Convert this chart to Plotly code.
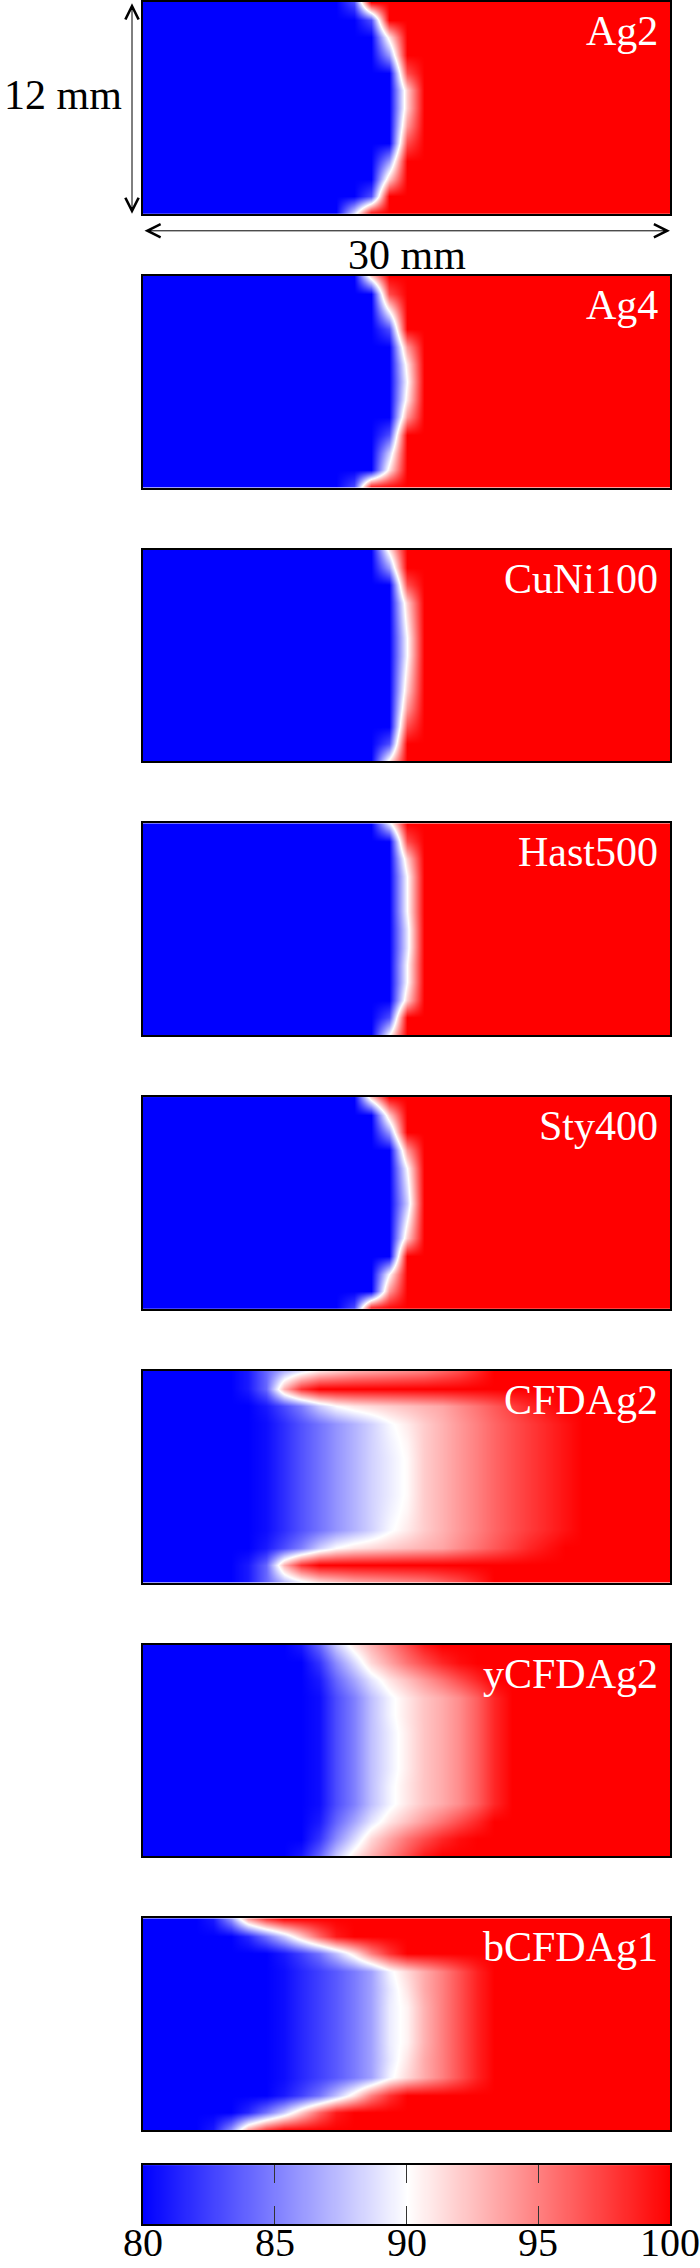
import plotly.graph_objects as go

# grid of the field maps, mm (y measured from the top edge)
x_mm = [0, 1, 2, 3, 4, 5, 6, 7, 8, 9, 10, 11, 12, 13, 14, 15, 16, 17, 18, 19, 20,
        21, 22, 23, 24, 25, 26, 27, 28, 29, 30]
y_mm = [0, 1, 2, 3, 4, 5, 6, 7, 8, 9, 10, 11, 12]

names = ["Ag2", "Ag4", "CuNi100", "Hast500", "Sty400", "CFDAg2", "yCFDAg2", "bCFDAg1"]

# sharp fronts (rows top -> bottom, 31 columns each)
ag2 = [
    [80]*12 + [83] + [100]*18,
    [80]*13 + [83] + [100]*17,
    [80]*14 + [91] + [100]*16,
    [80]*14 + [86] + [100]*16,
    [80]*15 + [97] + [100]*15,
    [80]*15 + [92] + [100]*15,
    [80]*15 + [92] + [100]*15,
    [80]*15 + [94] + [100]*15,
    [80]*15 + [97] + [100]*15,
    [80]*14 + [86] + [100]*16,
    [80]*14 + [92] + [100]*16,
    [80]*13 + [83] + [100]*17,
    [80]*12 + [89] + [100]*18,
]

ag4 = [
    [80]*13 + [92] + [100]*17,
    [80]*14 + [97] + [100]*16,
    [80]*14 + [90] + [100]*16,
    [80]*14 + [83] + [100]*16,
    [80]*15 + [94] + [100]*15,
    [80]*15 + [91] + [100]*15,
    [80]*15 + [90] + [100]*15,
    [80]*15 + [91] + [100]*15,
    [80]*15 + [94] + [100]*15,
    [80]*14 + [83] + [100]*16,
    [80]*14 + [88] + [100]*16,
    [80]*14 + [91] + [100]*16,
    [80]*12 + [83] + [100]*18,
]

cuni100 = [
    [80]*14 + [91] + [100]*16,
    [80]*14 + [86] + [100]*16,
    [80]*15 + [97] + [100]*15,
    [80]*15 + [92] + [100]*15,
    [80]*15 + [91] + [100]*15,
    [80]*15 + [90] + [100]*15,
    [80]*15 + [90] + [100]*15,
    [80]*15 + [91] + [100]*15,
    [80]*15 + [92] + [100]*15,
    [80]*15 + [94] + [100]*15,
    [80]*15 + [97] + [100]*15,
    [80]*14 + [83] + [100]*16,
    [80]*14 + [91] + [100]*16,
]

hast500 = [
    [80]*14 + [89] + [100]*16,
    [80]*15 + [97] + [100]*15,
    [80]*15 + [92] + [100]*15,
    [80]*15 + [90] + [100]*15,
    [80]*15 + [90] + [100]*15,
    [80]*15 + [90] + [100]*15,
    [80]*15 + [89] + [100]*15,
    [80]*15 + [89] + [100]*15,
    [80]*15 + [90] + [100]*15,
    [80]*15 + [90] + [100]*15,
    [80]*15 + [92] + [100]*15,
    [80]*14 + [83] + [100]*16,
    [80]*14 + [90] + [100]*16,
]

sty400 = [
    [80]*13 + [92] + [100]*17,
    [80]*14 + [92] + [100]*16,
    [80]*14 + [86] + [100]*16,
    [80]*15 + [94] + [100]*15,
    [80]*15 + [90] + [100]*15,
    [80]*15 + [89] + [100]*15,
    [80]*15 + [88] + [100]*15,
    [80]*15 + [90] + [100]*15,
    [80]*15 + [92] + [100]*15,
    [80]*15 + [100] + [100]*15,
    [80]*14 + [90] + [100]*16,
    [80]*14 + [94] + [100]*16,
    [80]*12 + [83] + [100]*18,
]

# CFDAg2 rows
cfd_edge = [80]*6 + [81, 84, 87, 89, 91, 92, 93, 93.5, 94, 94.5, 95, 96, 97, 98.5] + [100]*11
cfd_tip = [80]*6 + [81, 84, 93, 98] + [100]*21
cfd_side = [80]*7 + [81, 83, 85, 88, 90, 91, 91.5, 92, 92.5, 93, 93.5, 94.5, 95.5, 96.5, 97.5, 98.5, 99.3] + [100]*7
cfd_mid_a = [80]*7 + [80.5, 81.8, 83.2, 84.5, 85.8, 87, 88.2, 89.7, 90.8, 92, 93, 94, 95, 96, 96.9, 97.7, 98.5, 99.3] + [100]*6
cfd_mid_b = [80]*7 + [80.5, 81.8, 83.2, 84.5, 85.8, 87, 88.2, 89.4, 90.4, 92, 93, 94, 95, 96, 96.9, 97.7, 98.5, 99.3] + [100]*6
cfd_mid_c = [80]*7 + [80.5, 81.8, 83.2, 84.5, 85.8, 87, 88.2, 89.2, 90.2, 92, 93, 94, 95, 96, 96.9, 97.7, 98.5, 99.3] + [100]*6
cfdag2 = [cfd_edge, cfd_tip, cfd_side, cfd_mid_a, cfd_mid_b, cfd_mid_c, cfd_mid_c,
          cfd_mid_c, cfd_mid_b, cfd_mid_a, cfd_side, cfd_tip, cfd_edge]

# yCFDAg2 rows
y_edge = [80]*9 + [81, 84, 88, 91, 93, 95, 97, 99] + [100]*14
y_near = [80]*10 + [82, 85.5, 88.5, 91.5, 93.5, 95.5, 97, 98.5, 99.5] + [100]*12
y_side = [80]*10 + [81, 84, 86.5, 89, 91, 92.5, 94, 95.5, 97, 98.5] + [100]*11
y_mid_a = [80]*10 + [80.5, 83, 85, 87.5, 89.5, 91, 92.3, 93.3, 94.5, 96.3, 98.5] + [100]*10
y_mid_b = [80]*10 + [80.5, 83, 85, 87.5, 89.2, 90.8, 92.3, 93.3, 94.5, 96.3, 98.5] + [100]*10
ycfdag2 = [y_edge, y_near, y_side, y_mid_a, y_mid_a, y_mid_b, y_mid_b,
           y_mid_b, y_mid_a, y_mid_a, y_side, y_near, y_edge]

# bCFDAg1 rows
b_edge = [80]*4 + [81, 86, 94, 98] + [100]*23
b_near = [80]*6 + [81.5, 84.5, 88, 92, 96, 99] + [100]*19
b_side = [80]*8 + [81, 82.5, 84.5, 87.5, 91, 95, 98] + [100]*16
b_mid_a = [80]*8 + [80.5, 81.5, 82.5, 83.5, 84.8, 86.3, 89.5, 91.5, 93.3, 95, 96.8, 98.7] + [100]*11
b_mid_b = [80]*8 + [80.5, 81.5, 82.5, 83.5, 84.8, 86.3, 89, 91, 93.3, 95, 96.8, 98.7] + [100]*11
b_mid_c = [80]*8 + [80.5, 81.5, 82.5, 83.5, 84.8, 86.3, 89.2, 90.5, 93, 95, 96.8, 98.7] + [100]*11
bcfdag1 = [b_edge, b_near, b_side, b_mid_a, b_mid_b, b_mid_c, b_mid_c,
           b_mid_c, b_mid_b, b_mid_a, b_side, b_near, b_edge]

maps = [ag2, ag4, cuni100, hast500, sty400, cfdag2, ycfdag2, bcfdag1]

cbar_vals = [80, 85, 90, 95, 100]

# page geometry in pixels
W, H = 700, 2268
left, right = 143, 670
panel_h = 212
step = 274
cbar_top, cbar_h = 2165, 59
font = "Liberation Serif"

bwr = [[0, "rgb(0,0,255)"], [0.5, "rgb(255,255,255)"], [1, "rgb(255,0,0)"]]

fig = go.Figure()
frame = dict(showticklabels=False, ticks="", showgrid=False, zeroline=False,
             showline=True, mirror=True, linecolor="black", linewidth=1.8)

for i, (name, z) in enumerate(zip(names, maps)):
    n = i + 1
    top = i * step
    fig.add_trace(go.Heatmap(x=x_mm, y=y_mm, z=z, coloraxis="coloraxis", zsmooth="best",
                             xaxis="x%d" % n, yaxis="y%d" % n, hoverinfo="skip"))
    fig.update_layout({
        "xaxis%d" % n: dict(domain=[left / W, right / W], range=[0, 30], anchor="y%d" % n, **frame),
        "yaxis%d" % n: dict(domain=[1 - (top + panel_h) / H, 1 - top / H], range=[12, 0],
                            anchor="x%d" % n, **frame),
    })
    fig.add_annotation(x=29.45, y=1.65, xref="x%d" % n, yref="y%d" % n, text=name,
                       showarrow=False, xanchor="right", yanchor="middle",
                       font=dict(family=font, size=42, color="white"))

# colour bar as its own strip
fig.add_trace(go.Heatmap(x=cbar_vals, y=[0, 1], z=[cbar_vals, cbar_vals], coloraxis="coloraxis",
                         zsmooth="best", xaxis="x9", yaxis="y9", hoverinfo="skip"))
fig.update_layout(
    xaxis9=dict(domain=[left / W, right / W], range=[80, 100], anchor="y9",
                tickvals=cbar_vals, ticks="inside", ticklen=18, tickwidth=1.2, tickcolor="#333",
                showticklabels=False,
                showline=True, mirror="ticks", linecolor="black", linewidth=1.8,
                showgrid=False, zeroline=False),
    yaxis9=dict(domain=[1 - (cbar_top + cbar_h) / H, 1 - cbar_top / H], range=[0, 1], anchor="x9",
                showticklabels=False, ticks="", showgrid=False, zeroline=False,
                showline=True, mirror=True, linecolor="black", linewidth=1.8),
)
# tick labels sit right at the page bottom
for v in cbar_vals:
    fig.add_annotation(x=v, y=0, xref="x9", yref="paper", text=str(v), showarrow=False,
                       xanchor="center", yanchor="bottom", yshift=1,
                       font=dict(family=font, size=40, color="black"))

# dimension arrows
arrow = dict(text="", showarrow=True, xref="paper", yref="paper", axref="pixel", ayref="pixel",
             arrowside="end+start", arrowhead=5, startarrowhead=5, arrowsize=2.6, startarrowsize=2.6,
             arrowwidth=1, arrowcolor="black", standoff=0, startstandoff=0)
fig.add_annotation(x=132 / W, y=1 - panel_h / H, ax=0, ay=-panel_h, **arrow)
fig.add_annotation(x=right / W, y=1 - 229 / H, ax=-(right - left), ay=0, **arrow)
fig.add_annotation(x=124 / W, y=1 - 93.5 / H, xref="paper", yref="paper", text="12 mm",
                   showarrow=False, xanchor="right", yanchor="middle",
                   font=dict(family=font, size=42, color="black"))
fig.add_annotation(x=(left + right) / 2 / W, y=1 - 253.5 / H, xref="paper", yref="paper",
                   text="30 mm", showarrow=False, xanchor="center", yanchor="middle",
                   font=dict(family=font, size=42, color="black"))

fig.update_layout(
    width=W, height=H, autosize=False,
    margin=dict(l=0, r=0, t=0, b=0),
    paper_bgcolor="white", plot_bgcolor="white",
    showlegend=False,
    font=dict(family=font),
    coloraxis=dict(colorscale=bwr, cmin=80, cmax=100, showscale=False),
)

fig.write_html("out.html", config={"responsive": False, "displayModeBar": False},
               post_script="document.body.style.margin='0';document.body.style.overflow='hidden';")
